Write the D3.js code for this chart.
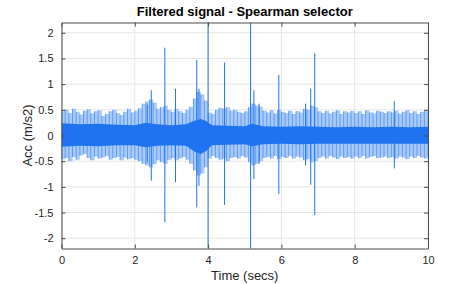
<!DOCTYPE html>
<html>
<head>
<meta charset="utf-8">
<script src="https://cdn.jsdelivr.net/npm/d3@7"></script>
<style>
  body { margin: 0; background: #fff; }
  svg { display: block; font-family: "Liberation Sans", Arial, sans-serif; }
</style>
</head>
<body>
<svg id="chart" width="474" height="284"></svg>
<script>
// envelope of the dense signal, one value every 0.1 s (0 .. 10 s)
const envTime = [0,0.1,0.2,0.3,0.4,0.5,0.6,0.7,0.8,0.9,1,1.1,1.2,1.3,1.4,1.5,1.6,1.7,1.8,1.9,
  2,2.1,2.2,2.3,2.4,2.5,2.6,2.7,2.8,2.9,3,3.1,3.2,3.3,3.4,3.5,3.6,3.7,3.8,3.9,
  4,4.1,4.2,4.3,4.4,4.5,4.6,4.7,4.8,4.9,5,5.1,5.2,5.3,5.4,5.5,5.6,5.7,5.8,5.9,
  6,6.1,6.2,6.3,6.4,6.5,6.6,6.7,6.8,6.9,7,7.1,7.2,7.3,7.4,7.5,7.6,7.7,7.8,7.9,
  8,8.1,8.2,8.3,8.4,8.5,8.6,8.7,8.8,8.9,9,9.1,9.2,9.3,9.4,9.5,9.6,9.7,9.8,9.9,10];
const envUpper = [0.47,0.50,0.44,0.52,0.46,0.41,0.48,0.51,0.43,0.47,
  0.49,0.38,0.42,0.47,0.50,0.44,0.40,0.46,0.52,0.45,
  0.48,0.53,0.62,0.66,0.70,0.64,0.52,0.55,0.58,0.50,
  0.46,0.52,0.47,0.44,0.50,0.56,0.72,0.85,0.80,0.68,
  0.45,0.42,0.50,0.54,0.52,0.55,0.48,0.50,0.46,0.44,
  0.47,0.55,0.62,0.58,0.56,0.48,0.45,0.49,0.43,0.50,
  0.46,0.44,0.48,0.42,0.47,0.45,0.52,0.50,0.58,0.55,
  0.47,0.44,0.48,0.43,0.46,0.49,0.42,0.47,0.45,0.48,
  0.44,0.47,0.42,0.49,0.45,0.43,0.48,0.46,0.44,0.47,
  0.45,0.48,0.43,0.46,0.49,0.44,0.47,0.42,0.46,0.48,0.45];
const envLower = [-0.46,-0.44,-0.50,-0.42,-0.47,-0.39,-0.36,-0.44,-0.48,-0.41,
  -0.45,-0.43,-0.40,-0.47,-0.44,-0.42,-0.48,-0.43,-0.46,-0.44,
  -0.47,-0.50,-0.55,-0.58,-0.62,-0.56,-0.48,-0.52,-0.55,-0.47,
  -0.44,-0.48,-0.45,-0.42,-0.47,-0.55,-0.68,-0.78,-0.74,-0.62,
  -0.45,-0.40,-0.44,-0.47,-0.45,-0.50,-0.44,-0.42,-0.45,-0.40,
  -0.43,-0.52,-0.58,-0.55,-0.50,-0.44,-0.42,-0.45,-0.40,-0.46,
  -0.42,-0.44,-0.40,-0.45,-0.41,-0.43,-0.48,-0.46,-0.52,-0.50,
  -0.44,-0.41,-0.45,-0.40,-0.43,-0.46,-0.41,-0.44,-0.42,-0.45,
  -0.41,-0.44,-0.40,-0.45,-0.42,-0.40,-0.44,-0.43,-0.41,-0.44,
  -0.42,-0.45,-0.41,-0.43,-0.46,-0.41,-0.44,-0.40,-0.43,-0.45,-0.42];

// dense dark core of the signal
const coreTime  = [0,0.5,1,1.5,2,2.3,2.6,3,3.4,3.6,3.8,3.95,4.1,4.5,5,5.2,5.5,6,6.5,7,7.5,8,8.5,9,9.5,10];
const coreUpper = [0.24,0.22,0.23,0.21,0.20,0.25,0.22,0.20,0.22,0.28,0.32,0.28,0.20,0.19,0.18,0.23,0.18,0.17,0.18,0.17,0.16,0.17,0.16,0.17,0.16,0.17];
const coreLower = [-0.22,-0.20,-0.21,-0.19,-0.19,-0.23,-0.20,-0.19,-0.20,-0.30,-0.36,-0.30,-0.19,-0.18,-0.17,-0.21,-0.17,-0.16,-0.17,-0.16,-0.16,-0.16,-0.16,-0.16,-0.16,-0.16];

// isolated spikes: time, max, min
const spikeTime = [2.34,2.45,2.82,3.11,3.69,3.75,4.00,4.45,5.16,5.25,5.39,5.93,6.66,6.80,6.91,9.08];
const spikeHigh = [0.60,0.88,1.71,0.91,1.47,0.91,2.60,1.42,2.60,0.88,0.62,1.18,0.62,0.91,1.60,0.67];
const spikeLow  = [-0.52,-0.88,-1.69,-0.91,-1.40,-0.98,-2.60,-1.35,-2.60,-0.85,-0.55,-1.14,-0.58,-0.96,-1.55,-0.64];

const xTicks = [0,2,4,6,8,10];
const yTicks = [-2,-1.5,-1,-0.5,0,0.5,1,1.5,2];

const svg = d3.select('#chart');
const pLeft = 61.5, pRight = 428, pTop = 22.5, pBottom = 248.5;

const x = d3.scaleLinear().domain([0, 10]).range([pLeft, pRight]);
const y = d3.scaleLinear().domain([-2.2, 2.2]).range([pBottom, pTop]);

const lineColor = '#1f73f0';

// grid
svg.append('g')
  .selectAll('line')
  .data(xTicks)
  .enter().append('line')
  .attr('x1', d => x(d)).attr('x2', d => x(d))
  .attr('y1', pTop).attr('y2', pBottom)
  .attr('stroke', '#e6e6e6');

svg.append('g')
  .selectAll('line')
  .data(yTicks)
  .enter().append('line')
  .attr('x1', pLeft).attr('x2', pRight)
  .attr('y1', d => y(d)).attr('y2', d => y(d))
  .attr('stroke', '#e6e6e6');

svg.append('clipPath').attr('id', 'clip')
  .append('rect')
  .attr('x', pLeft).attr('y', pTop)
  .attr('width', pRight - pLeft).attr('height', pBottom - pTop);

const plot = svg.append('g').attr('clip-path', 'url(#clip)');

// light envelope, stepped so it reads like dense vertical strokes
let envArea = d3.area()
  .curve(d3.curveStepAfter)
  .x((d, i) => x(envTime[i]))
  .y0((d, i) => y(envLower[i]))
  .y1((d, i) => y(envUpper[i]));

plot.append('path')
  .datum(envUpper)
  .attr('d', envArea)
  .attr('fill', '#a9c9f8');

plot.append('g')
  .selectAll('line')
  .data(envTime)
  .enter().append('line')
  .attr('x1', d => x(d)).attr('x2', d => x(d))
  .attr('y1', (d, i) => y(envUpper[i]))
  .attr('y2', (d, i) => y(envLower[i]))
  .attr('stroke', '#5f9cf4')
  .attr('stroke-width', 1);

let coreArea = d3.area()
  .x((d, i) => x(coreTime[i]))
  .y0((d, i) => y(coreLower[i]))
  .y1((d, i) => y(coreUpper[i]));

plot.append('path')
  .datum(coreUpper)
  .attr('d', coreArea)
  .attr('fill', lineColor);

plot.append('g')
  .selectAll('line')
  .data(spikeTime)
  .enter().append('line')
  .attr('x1', d => x(d)).attr('x2', d => x(d))
  .attr('y1', (d, i) => y(spikeHigh[i]))
  .attr('y2', (d, i) => y(spikeLow[i]))
  .attr('stroke', lineColor)
  .attr('stroke-width', 1);

// axes (ticks inside, box on)
const axisColor = '#4d4d4d';
const tickLen = 4;

let xAxis = d3.axisBottom(x).tickValues(xTicks).tickSize(-tickLen).tickPadding(8).tickFormat(d3.format('d'));
let xAxisTop = d3.axisTop(x).tickValues(xTicks).tickSize(-tickLen).tickFormat('');
let yAxis = d3.axisLeft(y).tickValues(yTicks).tickSize(-tickLen).tickPadding(8).tickFormat(d => d);
let yAxisRight = d3.axisRight(y).tickValues(yTicks).tickSize(-tickLen).tickFormat('');

function styleAxis(g) {
  g.select('.domain').attr('stroke', axisColor);
  g.selectAll('.tick line').attr('stroke', axisColor);
  g.selectAll('.tick text')
    .attr('fill', '#262626')
    .style('font-size', '11px')
    .style('font-family', '"Liberation Sans", Arial, sans-serif');
}

svg.append('g').attr('transform', `translate(0,${pBottom})`).call(xAxis.tickSizeOuter(0)).call(styleAxis);
svg.append('g').attr('transform', `translate(0,${pTop})`).call(xAxisTop.tickSizeOuter(0)).call(styleAxis);
svg.append('g').attr('transform', `translate(${pLeft},0)`).call(yAxis.tickSizeOuter(0)).call(styleAxis);
svg.append('g').attr('transform', `translate(${pRight},0)`).call(yAxisRight.tickSizeOuter(0)).call(styleAxis);

// titles
svg.append('text')
  .attr('x', (pLeft + pRight) / 2).attr('y', 16)
  .attr('text-anchor', 'middle')
  .style('font-size', '13px').style('font-weight', 'bold')
  .attr('fill', '#000')
  .text('Filtered signal - Spearman selector');

svg.append('text')
  .attr('x', (pLeft + pRight) / 2).attr('y', 280)
  .attr('text-anchor', 'middle')
  .style('font-size', '13px')
  .attr('fill', '#262626')
  .text('Time (secs)');

svg.append('text')
  .attr('transform', `translate(32,${(pTop + pBottom) / 2}) rotate(-90)`)
  .attr('text-anchor', 'middle')
  .style('font-size', '13px')
  .attr('fill', '#262626')
  .text('Acc (m/s2)');
</script>
</body>
</html>
